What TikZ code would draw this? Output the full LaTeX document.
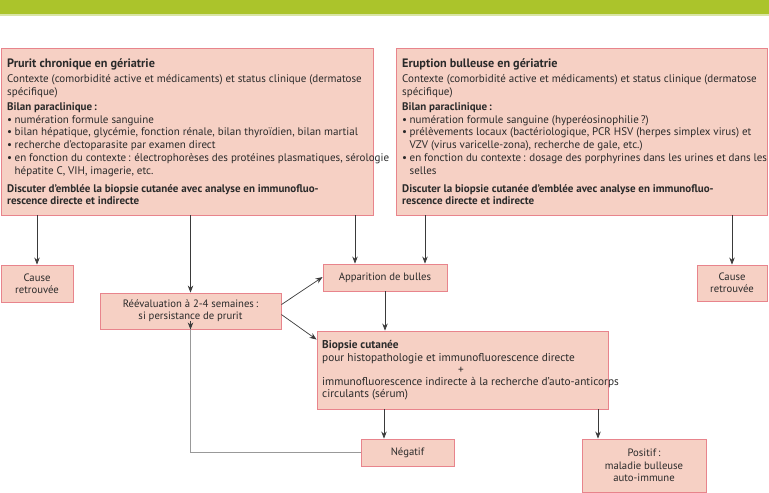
\documentclass[tikz,border=0pt]{standalone}
\usepackage{fontspec}
\setmainfont{PT Sans}
\usetikzlibrary{arrows.meta,calc}
\definecolor{boxfill}{HTML}{F6D0C4}
\definecolor{boxdraw}{HTML}{E8848C}
\definecolor{topgreen}{HTML}{ABC42B}
\definecolor{lightgreen}{HTML}{D9E5A6}
\definecolor{arrowc}{HTML}{3A3A3A}
\definecolor{textc}{HTML}{2A2A2A}
\newcommand{\bu}{\makebox[7.5pt][l]{•}}
\newcommand{\ind}{\hspace*{7.5pt}}
\begin{document}
\begin{tikzpicture}[x=1pt,y=-1pt,
  box/.style={draw=boxdraw,fill=boxfill,line width=0.9pt,inner sep=0pt,text=textc},
  txt/.style={anchor=north west,align=left,inner sep=0pt,text=textc,font=\fontsize{11}{12.8}\selectfont},
  ctxt/.style={align=center,inner sep=0pt,text=textc,font=\fontsize{10.7}{12.4}\selectfont},
  arr/.style={draw=arrowc,line width=0.7pt,-{Stealth[length=7pt,width=5.5pt]}},
  back/.style={draw=gray!80,line width=0.9pt}]
\useasboundingbox (0,0) rectangle (769,493);
\fill[topgreen] (0,0) rectangle (769,14);
\fill[lightgreen] (0,14) rectangle (769,15.5);
% big boxes
\node[box,minimum width=372pt,minimum height=167pt] (L) at (187,131.5) {};
\node[box,minimum width=371pt,minimum height=167pt] (R) at (581.5,131.5) {};
\node[txt] (Lt) at (7,59) {{\fontsize{12.2}{12.8}\selectfont\bfseries Prurit chronique en gériatrie}\\[1.5pt]
Contexte (comorbidité active et médicaments) et status clinique (dermatose\\
spécifique)\\[2.5pt]
\textbf{Bilan paraclinique\,:}\\
\bu numération formule sanguine\\
\bu bilan hépatique, glycémie, fonction rénale, bilan thyroïdien, bilan martial\\
\bu recherche d’ectoparasite par examen direct\\
\bu en fonction du contexte\,: électrophorèses des protéines plasmatiques, sérologie\\
\ind hépatite C, VIH, imagerie, etc.\\[5pt]
\textbf{Discuter d’emblée la biopsie cutanée avec analyse en immunofluo-}\\
\textbf{rescence directe et indirecte}};
\node[txt] (Rt) at (402,59) {{\fontsize{12.2}{12.8}\selectfont\bfseries Eruption bulleuse en gériatrie}\\[1.5pt]
Contexte (comorbidité active et médicaments) et status clinique (dermatose\\
spécifique)\\[2.5pt]
\textbf{Bilan paraclinique\,:}\\
\bu numération formule sanguine (hyperéosinophilie\,?)\\
\bu prélèvements locaux (bactériologique, PCR HSV (herpes simplex virus) et\\
\ind VZV (virus varicelle-zona), recherche de gale, etc.)\\
\bu en fonction du contexte\,: dosage des porphyrines dans les urines et dans les\\
\ind selles\\[5pt]
\textbf{Discuter la biopsie cutanée d’emblée avec analyse en immunofluo-}\\
\textbf{rescence directe et indirecte}};
% small boxes
\node[box,ctxt,minimum width=72pt,minimum height=37pt] (CL) at (37,283.5) {Cause\\retrouvée};
\node[box,ctxt,minimum width=70pt,minimum height=36pt] (CR) at (732,283) {Cause\\retrouvée};
\node[box,ctxt,minimum width=181pt,minimum height=36pt] (RE) at (190.5,311) {Réévaluation à 2-4 semaines\,:\\si persistance de prurit};
\node[box,ctxt,minimum width=124pt,minimum height=27pt] (AP) at (385,277.5) {Apparition de bulles};
\node[box,minimum width=291pt,minimum height=78pt] (BI) at (462.5,370) {};
\node[txt,font=\fontsize{11.3}{12.2}\selectfont] (BIt) at (322,340.5) {\textbf{Biopsie cutanée}\\
pour histopathologie et immunofluorescence directe\\
\hspace*{136pt}+\\
immunofluorescence indirecte à la recherche d’auto-anticorps\\
circulants (sérum)};
\node[box,ctxt,minimum width=93pt,minimum height=27pt] (NE) at (407.5,452.5) {Négatif};
\node[box,ctxt,minimum width=124pt,minimum height=53pt] (PO) at (644,465.5) {Positif\,:\\maladie bulleuse\\auto-immune};
% helper coordinates
\coordinate (x1) at (355,0);
\coordinate (x2) at (425,0);
\coordinate (x3) at (384,0);
\coordinate (x4) at (598,0);
% arrows
\draw[arr] (L.south -| CL) -- (CL.north);
\draw[arr] (L.south -| RE) -- (RE.north);
\draw[arr] (L.south -| x1) -- (AP.north -| x1);
\draw[arr] (R.south -| x2) -- (AP.north -| x2);
\draw[arr] (R.south -| CR) -- (CR.north);
\draw[arr] (AP.south) -- (AP.south |- BI.north);
\draw[arr] ([yshift=-12pt]RE.north east) -- ([yshift=-13.5pt]AP.north west);
\draw[arr] ([yshift=-22pt]RE.north east) -- ([yshift=-9pt]BI.north west);
\draw[arr] (BI.south -| x3) -- (NE.north -| x3);
\draw[arr] (BI.south -| x4) -- (PO.north -| x4);
\draw[back] (NE.west) -- (RE.south |- NE.west) -- ([yshift=8pt]RE.south);
\draw[arr] ([yshift=8pt]RE.south) -- (RE.south);
\end{tikzpicture}
\end{document}
